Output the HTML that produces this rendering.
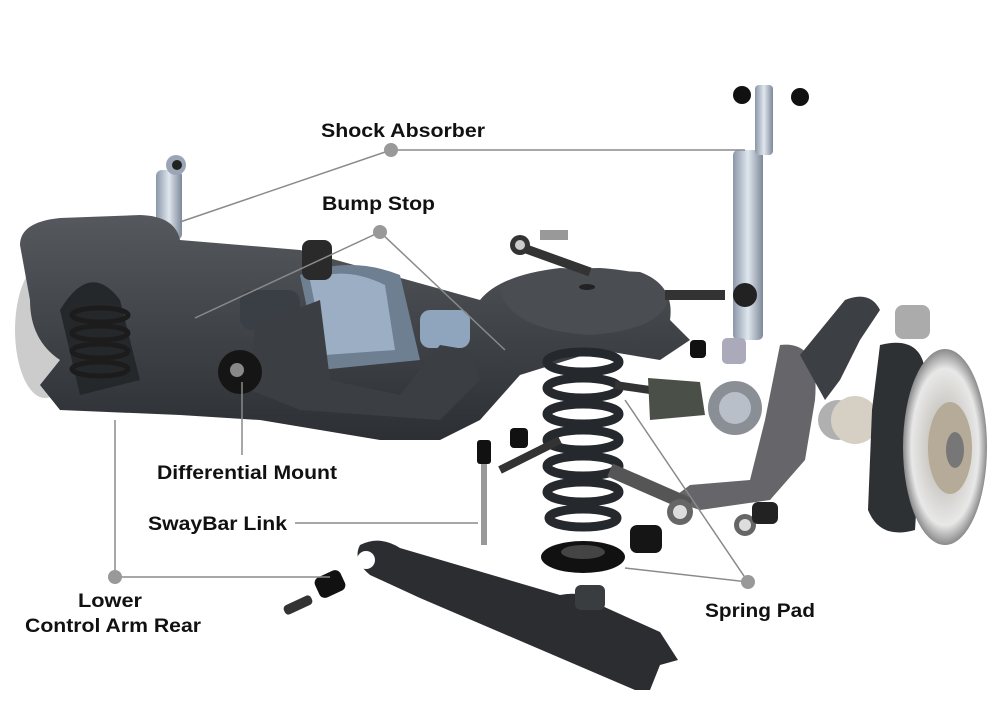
<!DOCTYPE html>
<html><head><meta charset="utf-8"><style>html,body{margin:0;padding:0;background:#fff}svg{display:block}text{font-family:"Liberation Sans",Arial,sans-serif;font-weight:bold;font-size:19px;fill:#111}</style></head>
<body>
<svg width="1000" height="712" viewBox="0 0 1000 712" xmlns="http://www.w3.org/2000/svg">
<defs>
<linearGradient id="metal" x1="0" x2="1"><stop offset="0" stop-color="#8a97a8"/><stop offset=".5" stop-color="#dfe6ee"/><stop offset="1" stop-color="#7d8898"/></linearGradient>
<linearGradient id="dark" x1="0" y1="0" x2="0" y2="1"><stop offset="0" stop-color="#55595e"/><stop offset="1" stop-color="#2c2f33"/></linearGradient>
<radialGradient id="disc"><stop offset="0" stop-color="#9c9890"/><stop offset=".35" stop-color="#c9c6c0"/><stop offset=".8" stop-color="#e8e8e8"/><stop offset="1" stop-color="#8a8a8a"/></radialGradient>
</defs>
<!-- left shock -->
<rect x="156" y="170" width="26" height="70" rx="6" fill="url(#metal)"/>
<circle cx="176" cy="165" r="10" fill="#9aa6b5"/><circle cx="177" cy="165" r="5" fill="#222"/>
<!-- left wheel coil -->
<ellipse cx="45" cy="330" rx="30" ry="68" fill="#ccc"/>
<!-- subframe -->
<path d="M20 245 Q20 222 60 218 L140 215 Q175 216 180 240 L300 250 L480 300 Q500 275 560 268 L640 272 Q675 285 670 320 L690 340 L660 360 L600 350 L520 375 L480 420 L440 440 L380 440 L260 420 L180 415 L60 410 L40 385 L60 360 Q30 340 30 300 Z" fill="url(#dark)"/>
<path d="M60 310 Q90 260 120 300 L140 380 L80 395 Z" fill="#25282b"/>
<g stroke="#1c1c1c" stroke-width="5" fill="none"><ellipse cx="100" cy="315" rx="28" ry="7"/><ellipse cx="100" cy="333" rx="28" ry="7"/><ellipse cx="100" cy="351" rx="28" ry="7"/><ellipse cx="100" cy="369" rx="28" ry="7"/></g>
<!-- diff -->
<path d="M300 275 Q350 255 400 275 L420 360 L320 370 Z" fill="#6f7f92"/>
<path d="M310 280 Q345 265 385 285 L395 350 L325 355 Z" fill="#a6bad0" opacity=".8"/>
<rect x="240" y="290" width="60" height="40" rx="12" fill="#3a3f45"/>
<rect x="420" y="310" width="50" height="38" rx="10" fill="#8ea5bd"/>
<path d="M255 325 L320 300 L330 380 L400 395 L440 345 L470 350 L480 380 L440 420 L300 410 L250 390 Z" fill="#3b3e42"/>
<path d="M500 290 Q520 268 600 268 Q665 272 668 300 Q660 330 590 335 Q510 330 500 290 Z" fill="#4a4d52"/>
<ellipse cx="587" cy="287" rx="8" ry="3" fill="#222"/>
<circle cx="240" cy="372" r="22" fill="#151515"/><circle cx="237" cy="370" r="7" fill="#888"/>
<rect x="302" y="240" width="30" height="40" rx="8" fill="#2a2a2a"/>
<!-- upper link -->
<path d="M515 245 L590 272" stroke="#333" stroke-width="9"/>
<circle cx="520" cy="245" r="10" fill="#333"/><circle cx="520" cy="245" r="5" fill="#ccc"/>
<rect x="540" y="230" width="28" height="10" fill="#999"/>
<path d="M665 295 L725 295" stroke="#333" stroke-width="10"/>
<!-- right shock -->
<rect x="733" y="150" width="30" height="190" rx="5" fill="url(#metal)"/>
<rect x="755" y="85" width="18" height="70" rx="4" fill="url(#metal)"/>
<circle cx="742" cy="95" r="9" fill="#111"/><circle cx="800" cy="97" r="9" fill="#111"/>
<circle cx="745" cy="295" r="12" fill="#222"/>
<rect x="722" y="338" width="24" height="26" rx="5" fill="#aab"/>
<rect x="690" y="340" width="16" height="18" rx="4" fill="#111"/>
<!-- spring -->
<g stroke="#25282c" stroke-width="9" fill="none">
<ellipse cx="583" cy="362" rx="36" ry="10"/><ellipse cx="583" cy="388" rx="36" ry="10"/><ellipse cx="583" cy="414" rx="36" ry="10"/><ellipse cx="583" cy="440" rx="36" ry="10"/><ellipse cx="583" cy="466" rx="36" ry="10"/><ellipse cx="583" cy="492" rx="36" ry="10"/><ellipse cx="583" cy="518" rx="34" ry="9"/></g>
<ellipse cx="583" cy="557" rx="42" ry="16" fill="#111"/><ellipse cx="583" cy="552" rx="22" ry="7" fill="#444"/>
<!-- sway link -->
<rect x="481" y="450" width="6" height="95" fill="#999"/>
<rect x="477" y="440" width="14" height="24" rx="3" fill="#111"/>
<path d="M500 470 L560 440" stroke="#333" stroke-width="8"/>
<rect x="510" y="428" width="18" height="20" rx="4" fill="#111"/>
<!-- axle -->
<path d="M615 385 L650 390" stroke="#333" stroke-width="8"/>
<path d="M648 378 L700 382 L705 415 L650 420 Z" fill="#4a5048"/>
<circle cx="735" cy="408" r="27" fill="#8a8f95"/><circle cx="735" cy="408" r="16" fill="#b8bfc8"/>
<!-- knuckle and arms -->
<path d="M780 345 Q820 340 815 400 L805 460 L770 500 L700 510 L670 500 L690 485 L750 480 L765 420 Z" fill="#66666a"/>
<path d="M610 470 L690 505" stroke="#555" stroke-width="14"/>
<circle cx="680" cy="512" r="13" fill="#666"/><circle cx="680" cy="512" r="7" fill="#ddd"/>
<circle cx="745" cy="525" r="11" fill="#666"/><circle cx="745" cy="525" r="6" fill="#ddd"/>
<rect x="630" y="525" width="32" height="28" rx="7" fill="#151515"/>
<rect x="752" y="502" width="26" height="22" rx="6" fill="#222"/>
<path d="M800 355 L845 300 Q870 290 880 310 L860 340 L840 380 L825 400 Z" fill="#3c3f43"/>
<circle cx="838" cy="420" r="20" fill="#b0b0b0"/><circle cx="855" cy="420" r="24" fill="#d6d0c4"/>
<rect x="895" y="305" width="35" height="34" rx="8" fill="#ababab"/>
<!-- backing plate & disc -->
<path d="M880 345 Q920 335 925 370 L915 530 Q880 540 868 510 L872 410 Z" fill="#2e3134"/>
<ellipse cx="945" cy="447" rx="42" ry="98" fill="url(#disc)"/>
<ellipse cx="950" cy="448" rx="22" ry="46" fill="#b5ab98"/><ellipse cx="955" cy="450" rx="9" ry="18" fill="#777"/>
<!-- lower control arm -->
<path d="M360 545 Q380 535 400 548 L560 595 Q585 590 600 605 L660 632 L678 660 L660 665 L650 690 L635 690 L420 598 L370 575 Q352 560 360 545 Z" fill="#2b2d31"/>
<circle cx="366" cy="560" r="9" fill="#fff"/>
<rect x="575" y="585" width="30" height="25" rx="6" fill="#3a3d40"/>
<rect x="316" y="573" width="28" height="22" rx="6" fill="#111" transform="rotate(-25 330 584)"/>
<rect x="283" y="600" width="30" height="10" rx="4" fill="#333" transform="rotate(-25 298 605)"/>
<!-- leader lines -->
<g stroke="#8a8a8a" stroke-width="1.5" fill="none">
<path d="M180 222 L391 150 L745 150"/>
<path d="M195 318 L380 232 L505 350"/>
<path d="M242 382 L242 455"/>
<path d="M295 523 L478 523"/>
<path d="M115 420 L115 577 L330 577"/>
<path d="M625 400 L748 582 L625 568"/>
</g>
<g fill="#999"><circle cx="391" cy="150" r="7"/><circle cx="380" cy="232" r="7"/><circle cx="115" cy="577" r="7"/><circle cx="748" cy="582" r="7"/></g>
<text x="321" y="137" textLength="164" lengthAdjust="spacingAndGlyphs">Shock Absorber</text>
<text x="322" y="210" textLength="113" lengthAdjust="spacingAndGlyphs">Bump Stop</text>
<text x="157" y="479" textLength="180" lengthAdjust="spacingAndGlyphs">Differential Mount</text>
<text x="148" y="530" textLength="139" lengthAdjust="spacingAndGlyphs">SwayBar Link</text>
<text x="78" y="607" textLength="64" lengthAdjust="spacingAndGlyphs">Lower</text>
<text x="25" y="632" textLength="176" lengthAdjust="spacingAndGlyphs">Control Arm Rear</text>
<text x="705" y="617" textLength="110" lengthAdjust="spacingAndGlyphs">Spring Pad</text>
</svg>
</body></html>
